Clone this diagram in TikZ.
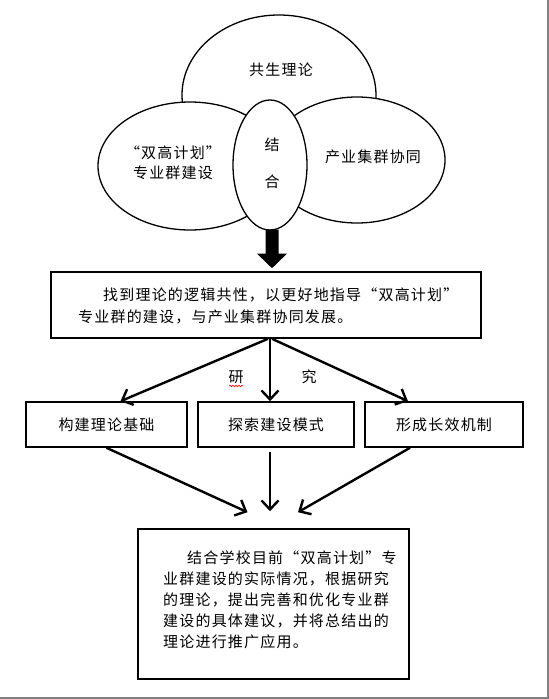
\documentclass[tikz,border=0pt]{standalone}
\usepackage{fontspec}
\newfontfamily\cjk[LetterSpace=8,CharacterWidth=Full]{Noto Sans CJK SC}
\usetikzlibrary{shapes.geometric,arrows.meta,calc,decorations.pathmorphing}
\begin{document}
\begin{tikzpicture}[x=1pt,y=-1pt,
  font=\cjk\fontsize{15}{21}\selectfont,
  ell/.style={ellipse, draw, fill=white, line width=1.3pt, inner sep=0pt},
  box/.style={rectangle, draw, fill=white, line width=1.6pt, inner sep=0pt},
  arr/.style={line width=2.4pt, -{Straight Barb[length=9pt,width=17pt]}},
  lbl/.style={inner sep=0pt}]
\useasboundingbox (0,0) rectangle (549,699);
% ellipses
\node[ell, minimum width=194pt, minimum height=160pt] (topell) at (279,95) {};
\node[ell, minimum width=184pt, minimum height=128pt] (leftell) at (190,166) {};
\node[ell, minimum width=176pt, minimum height=126pt] (rightell) at (357,160) {};
\node[ell, minimum width=74pt, minimum height=130pt] (midell) at (270,165) {};
\node[lbl] (t1) at (281,70) {共生理论};
\node[lbl, align=center, font=\cjk\fontsize{15}{20}\selectfont] (t2) at (173,163) {“双高计划”\\专业群建设};
\node[lbl] (t3) at (373,157) {产业集群协同};
\node[lbl] (t4) at (272,145) {结};
\node[lbl] (t5) at (272,182) {合};
% main box
\node[box, minimum width=430pt, minimum height=66pt] (main) at (266,305) {};
\node[lbl, anchor=west, align=left, font=\cjk\fontsize{15}{22}\selectfont] (maintext) at (78,306)
  {\hspace*{25pt}找到理论的逻辑共性，以更好地指导“双高计划”\\专业群的建设，与产业集群协同发展。};
% thick arrow
\fill ($(midell.south)+(-4.5,-1)$) -- ($(midell.south)+(8.5,-1)$) -- ($(midell.south)+(8.5,23)$)
  -- ($(midell.south)+(17,23)$) -- ($(main.north -| midell.south)+(2,-3)$)
  -- ($(midell.south)+(-13,23)$) -- ($(midell.south)+(-4.5,23)$) -- cycle;
% row boxes
\node[box, minimum width=161pt, minimum height=45pt] (b1) at (106.5,424.5) {构建理论基础};
\node[box, minimum width=156pt, minimum height=45pt] (b2) at (276,424.5) {探索建设模式};
\node[box, minimum width=158pt, minimum height=45pt] (b3) at (444,424.5) {形成长效机制};
% research arrows
\draw[arr] ($(main.south)+(2,0)$) -- ($(b1.north)+(14,0)$);
\draw[arr] ($(main.south)+(4,0)$) -- ($(b2.north)+(-6,0)$);
\draw[arr] ($(main.south)+(6,0)$) -- ($(b3.north)+(-36,0)$);
\node[lbl] (yan) at (236,377) {研};
\node[lbl] (jiu) at (309,377) {究};
\draw[red, line width=0.6pt, decorate, decoration={snake, amplitude=0.8pt, segment length=3pt}]
  ($(yan.center)+(-7,9)$) -- ($(yan.center)+(7,9)$);
% bottom box
\node[box, minimum width=271pt, minimum height=150pt] (bot) at (273.5,604) {};
\node[lbl, anchor=west, align=left] (bottext) at (163,600)
  {\hspace*{24pt}结合学校目前“双高计划”专\\业群建设的实际情况，根据研究\\的理论，提出完善和优化专业群\\建设的具体建议，并将总结出的\\理论进行推广应用。};
\draw[arr] (b1.south) -- ($(bot.north)+(-26,-16)$);
\draw[arr] ($(b2.south)+(-6,4)$) -- ($(bot.north)+(-3.5,-17)$);
\draw[arr] ($(b3.south)+(-34,0)$) -- ($(bot.north)+(24.5,-16)$);
% page edge
\draw[gray, line width=1.5pt] (547.8,0) -- (547.8,697.8) -- (0,697.8);
\end{tikzpicture}
\end{document}
